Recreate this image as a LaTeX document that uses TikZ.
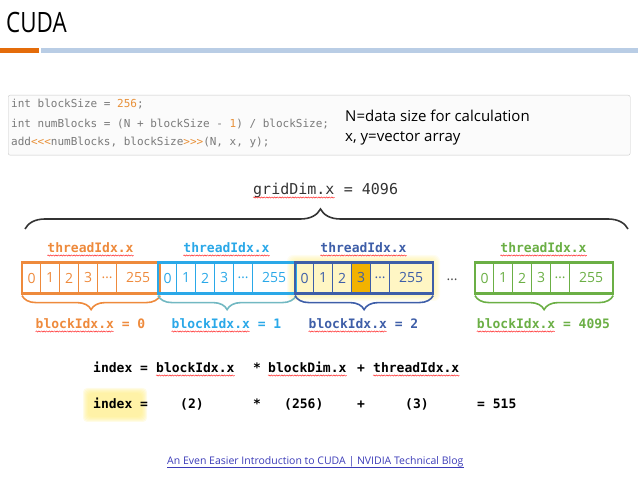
\documentclass[tikz,border=0pt]{standalone}
\usepackage{fontspec}
\setmainfont{Open Sans}
\newfontfamily\monofont{DejaVu Sans Mono}
\usetikzlibrary{decorations.pathreplacing,decorations.pathmorphing,positioning}
\definecolor{titleorange}{HTML}{E46C0A}
\definecolor{titleblue}{HTML}{B9CDE5}
\definecolor{codeborder}{HTML}{C8C8C8}
\definecolor{codebg}{HTML}{FBFBFB}
\definecolor{codegray}{HTML}{7A7A7A}
\definecolor{codeorange}{HTML}{E8913A}
\definecolor{borange}{HTML}{EE8A3C}
\definecolor{bsky}{HTML}{2AA8E8}
\definecolor{bteal}{HTML}{72B8C2}
\definecolor{bnavy}{HTML}{3E5EA8}
\definecolor{bgreen}{HTML}{6BAF45}
\definecolor{cellyellow}{HTML}{FFF6C4}
\definecolor{cellgold}{HTML}{F2B200}
\definecolor{glowyellow}{HTML}{FFEE88}
\definecolor{linkblue}{HTML}{3B3BB8}
\def\lll{<\kern0pt<\kern0pt<}
\def\ggg{>\kern0pt>\kern0pt>}

\begin{document}
\begin{tikzpicture}[x=1pt,y=-1pt]
  \tikzset{cell/.style={draw,line width=1.2pt,minimum height=30pt,inner sep=0pt,anchor=west,font=\fontsize{14}{16}\selectfont}}
  \tikzset{mono/.style={inner sep=0pt,anchor=base west,font=\monofont\bfseries\fontsize{13}{15}\selectfont}}
  \tikzset{code/.style={inner sep=0pt,anchor=base west,text=codegray,font=\monofont\fontsize{11}{13}\selectfont}}
  \tikzset{note/.style={inner sep=0pt,anchor=base west,font=\fontsize{15}{18}\selectfont}}
  \tikzset{squiggle/.style={draw=red!85,line width=0.5pt,decorate,decoration={snake,amplitude=0.6pt,segment length=2.6pt}}}
  \tikzset{brace/.style={decorate,decoration={brace,amplitude=#1},line width=1.6pt}}
  \useasboundingbox (0,0) rectangle (638,478);

  % title and rule
  \node[anchor=base west,inner sep=0pt,font=\fontsize{28}{30}\selectfont] (title) at (6,33) {\scalebox{0.8}[1]{CUDA}};
  \fill[titleorange] (0,48) rectangle (39,53);
  \fill[titleblue] (41,48) rectangle (638,53);

  % code box
  \node[draw=codeborder,fill=codebg,rounded corners=2pt,minimum width=622pt,minimum height=60pt,anchor=north west] (codebox) at (8,95) {};
  \node[code] (line1) at (11,108) {int blockSize = \textcolor{codeorange}{256};};
  \node[code] (line2) at (11,128) {int numBlocks = (N + blockSize - \textcolor{codeorange}{1}) / blockSize;};
  \node[code] (line3) at (11,146) {add\textcolor{codeorange}{\lll}numBlocks, blockSize\textcolor{codeorange}{\ggg}(N, x, y);};
  \node[note] (note1) at (345,122) {N=data size for calculation};
  \node[note] (note2) at (345,142) {x, y=vector array};

  % grid
  \node[mono,font=\monofont\fontsize{15}{17}\selectfont,text=black!80] (gd) at (253,195) {gridDim.x};
  \node[mono,font=\monofont\fontsize{15}{17}\selectfont,text=black!80,right=9pt of gd.base east,anchor=base west] (gdval) {= 4096};
  \draw[squiggle] ([yshift=-2.5pt]gd.base west) -- ([yshift=-2.5pt]gd.base east);
  \coordinate (gl) at (25,229);
  \coordinate (gr) at (628,229);
  \draw[brace=20pt,black!80,decoration={aspect=0.49}] (gl) -- (gr);

  % highlighted block
  \foreach \g in {1,...,8}
    \fill[glowyellow,opacity=0.12,rounded corners=6pt] (295-\g,263-\g) rectangle (432+\g,293+\g);
  \fill[cellyellow] (295,263) rectangle (432,293);
  \fill[cellgold] (351,263) rectangle (370,293);

  \foreach \bx/\bc/\bn/\bi/\bb in {22/borange/a/0/borange, 158/bsky/b/1/bteal, 295/bnavy/c/2/bnavy, 475/bgreen/d/4095/bgreen}{
    \foreach \off/\w/\t [count=\j] in {0/18/0, 18/19/1, 37/19/2, 56/19/3, 75/19/\ldots, 94/43/255}
      \node[cell,draw=\bc,text=\bc,minimum width=\w pt] (\bn\j) at (\bx+\off,278) {\t};
    \draw[\bc,line width=2.2pt] (\bn1.north west) rectangle (\bn6.south east);
    \node[mono,text=\bc,anchor=base] (th\bn) at (\bx+68.5,253) {threadIdx.x};
    \draw[squiggle] ([yshift=-2.5pt]th\bn.base west) -- ([yshift=-2.5pt]th\bn.base east);
    \draw[brace=14pt,\bb] ([yshift=-2pt]\bn6.south east) -- ([yshift=-2pt]\bn1.south west);
    \node[mono,text=\bc,anchor=base] (bl\bn) at (\bx+68.5,329) {blockIdx.x = \bi};
    \draw[squiggle] ([yshift=-2.5pt]bl\bn.base west) -- ++(78,0);
  }
  \node[font=\fontsize{14}{16}\selectfont,text=black!70] (gap) at (452,280) {\ldots};

  % index formula
  \node[mono] (ix1) at (93,373) {index =};
  \node[mono] (bi) at (156,373) {blockIdx.x};
  \node[mono] (st1) at (253,373) {*};
  \node[mono] (bd) at (268,373) {blockDim.x};
  \node[mono] (pl1) at (357,373) {+};
  \node[mono] (ti) at (373,373) {threadIdx.x};
  \foreach \n in {bi,bd,ti}
    \draw[squiggle] ([yshift=-2.5pt]\n.base west) -- ([yshift=-2.5pt]\n.base east);

  \foreach \g in {0,...,5}
    \fill[glowyellow,opacity=0.2,rounded corners=4pt] (83+\g,388+\g) rectangle (147-\g,422-\g);
  \node[mono] (ix2) at (93,409) {index =};
  \node[mono] (v2) at (180,409) {(2)};
  \node[mono] (st2) at (253,409) {*};
  \node[mono] (v256) at (284,409) {(256)};
  \node[mono] (pl2) at (357,409) {+};
  \node[mono] (v3) at (405,409) {(3)};
  \node[mono] (res) at (477,409) {= 515};

  % source link
  \node[anchor=base west,inner sep=0pt,text=linkblue,font=\fontsize{10.5}{12}\selectfont] (link) at (167,465) {An Even Easier Introduction to CUDA | NVIDIA Technical Blog};
  \draw[linkblue,line width=0.5pt] ([yshift=-1.8pt]link.base west) -- ([yshift=-1.8pt]link.base east);
\end{tikzpicture}
\end{document}
